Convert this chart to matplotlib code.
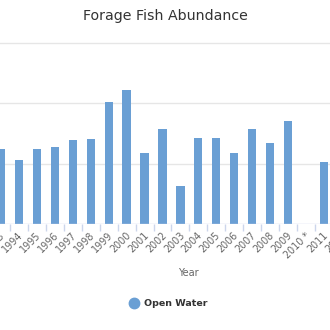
import numpy as np
import matplotlib
matplotlib.use("Agg")
import matplotlib.pyplot as plt
from matplotlib.lines import Line2D

years = ["1993", "1994", "1995", "1996", "1997", "1998", "1999", "2000", "2001",
         "2002", "2003", "2004", "2005", "2006", "2007", "2008", "2009", "2010 *",
         "2011", "2012"]
open_water = [61.9, 53.1, 61.9, 64.1, 69.7, 70.2, 100.9, 111.1, 58.6,
              79.0, 31.3, 71.6, 71.6, 58.6, 79.0, 66.9, 85.2, np.nan,
              51.7, 60.0]
y_ticks = [0, 50, 100, 150]

W = H = 330
fig = plt.figure(figsize=(3.3, 3.3), dpi=100)

def fx(px):
    return px / W

def fy(py):
    return 1 - py / H

base_px, top_px = 224, 43
ax = fig.add_axes([0, fy(base_px), 1, fy(top_px) - fy(base_px)])
x = np.arange(len(years))
ax.bar(x, open_water, width=0.46, color="#6a9fd4", zorder=3)

for v in y_ticks[1:]:
    ax.axhline(v, color="#e6e6e6", lw=1, zorder=1, clip_on=False)
ax.axhline(0, color="#ccd6eb", lw=1, zorder=4)

for s in ax.spines.values():
    s.set_visible(False)
ax.set_yticks([])
ax.set_xticks(x - 0.5)
ax.tick_params(axis="x", length=5, color="#ccd6eb", width=1, labelbottom=False)

cat_w = 17.94
c0 = 1.03
ax.set_xlim((0 - c0) / cat_w, (W - c0) / cat_w)
ax.set_ylim(0, 150)

for i, lab in enumerate(years):
    ax.annotate(lab, xy=(i, 0), xycoords="data", xytext=(2.5, -10),
                textcoords="offset pixels", rotation=45, rotation_mode="anchor",
                ha="right", va="center", fontsize=6.9, color="#666666",
                annotation_clip=False)

fig.text(fx(165), fy(16), "Forage Fish Abundance", ha="center", va="center",
         fontsize=10.2, color="#333333")
fig.text(fx(188), fy(273), "Year", ha="center", va="center",
         fontsize=7, color="#666666")
fig.add_artist(Line2D([fx(134)], [fy(303)], marker="o", markersize=7.5,
                      color="#6a9fd4", linestyle="none", transform=fig.transFigure))
fig.text(fx(144), fy(303), "Open Water", ha="left", va="center",
         fontsize=6.8, fontweight="bold", color="#333333")

fig.savefig("out.png", dpi=100, facecolor="white")
